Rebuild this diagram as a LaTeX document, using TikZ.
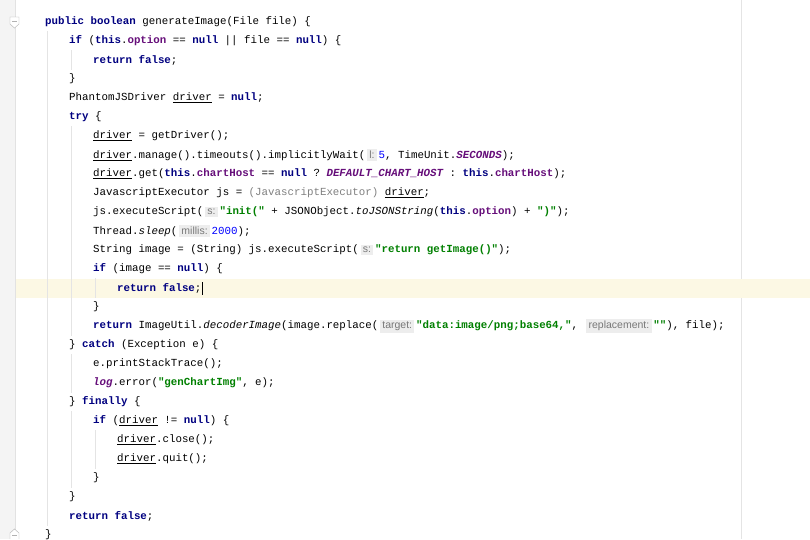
\documentclass[tikz,border=0pt]{standalone}
\usepackage{fontspec}
\setmonofont{Liberation Mono}
\setsansfont{Liberation Sans}
\definecolor{kwc}{RGB}{0,0,128}
\definecolor{fldc}{RGB}{102,14,122}
\definecolor{strc}{RGB}{0,128,0}
\definecolor{numc}{RGB}{0,0,255}
\definecolor{hintbg}{RGB}{237,237,237}
\definecolor{hinttxt}{RGB}{120,120,120}
\definecolor{castc}{RGB}{128,128,128}
\definecolor{curline}{RGB}{252,248,228}
\definecolor{guide}{RGB}{228,228,228}
\definecolor{gutter}{RGB}{244,244,244}
\newcommand\kw[1]{\textbf{\color{kwc}#1}}
\newcommand\fld[1]{\textbf{\color{fldc}#1}}
\newcommand\fldi[1]{\textbf{\textit{\color{fldc}#1}}}
\newcommand\strl[1]{\textbf{\color{strc}#1}}
\newcommand\numl[1]{{\color{numc}#1}}
\newcommand\ul[1]{\underline{#1}}
\newcommand\hintb[1]{\,{\setlength\fboxsep{2.2pt}\colorbox{hintbg}{\sffamily\fontsize{10.5}{10.5}\selectfont\color{hinttxt}#1}}\,}
\begin{document}
\begin{tikzpicture}[x=1pt,y=1pt,
  code/.style={anchor=west,inner sep=0pt,font=\ttfamily\fontsize{10.8}{12}\selectfont},
  guideline/.style={draw=guide,line width=0.8pt}]
\useasboundingbox (0,0) rectangle (810,-539);
\fill[white] (0,0) rectangle (810,-539);
\fill[gutter] (0,0) rectangle (15,-539);
\draw[guide!80!black!40] (15,0) -- (15,-539);
\draw[guide] (741,0) -- (741,-539);
\fill[curline] (15.5,-279) rectangle (810,-298);
% indent guides
\draw[guideline] (47,-31) -- (47,-526);
\draw[guideline] (71,-50) -- (71,-70);
\draw[guideline] (71,-126) -- (71,-336);
\draw[guideline] (71,-354) -- (71,-393);
\draw[guideline] (71,-411) -- (71,-488);
\draw[guideline] (95,-278) -- (95,-298);
\draw[guideline] (95,-430) -- (95,-469);
% fold markers
\draw[gray!60,fill=white] (10,-17) -- (19,-17) -- (19,-24) -- (14.5,-28) -- (10,-24) -- cycle;
\draw[gray!60] (12,-21.5) -- (17,-21.5);
\draw[gray!60,fill=white] (10,-539) -- (10,-533) -- (14.5,-529) -- (19,-533) -- (19,-539);
\draw[gray!60] (12,-535) -- (17,-535);
\node[code] (l0) at (45,-22) {\kw{public} \kw{boolean} generateImage(File file) \{};
\node[code] (l1) at (69,-41) {\kw{if} (\kw{this}.\fld{option} == \kw{null} || file == \kw{null}) \{};
\node[code] (l2) at (93,-60) {\kw{return} \kw{false};};
\node[code] (l3) at (69,-79) {\}};
\node[code] (l4) at (69,-98) {PhantomJSDriver \ul{driver} = \kw{null};};
\node[code] (l5) at (69,-117) {\kw{try} \{};
\node[code] (l6) at (93,-136) {\ul{driver} = getDriver();};
\node[code] (l7) at (93,-155) {\ul{driver}.manage().timeouts().implicitlyWait(\hintb{l:}\numl{5}, TimeUnit.\fldi{SECONDS});};
\node[code] (l8) at (93,-174) {\ul{driver}.get(\kw{this}.\fld{chartHost} == \kw{null} ? \fldi{DEFAULT\_CHART\_HOST} : \kw{this}.\fld{chartHost});};
\node[code] (l9) at (93,-193) {JavascriptExecutor js = {\color{castc}(JavascriptExecutor)} \ul{driver};};
\node[code] (l10) at (93,-212) {js.executeScript(\hintb{s:}\strl{"init("} + JSONObject.\textit{toJSONString}(\kw{this}.\fld{option}) + \strl{")"});};
\node[code] (l11) at (93,-231) {Thread.\textit{sleep}(\hintb{millis:}\numl{2000});};
\node[code] (l12) at (93,-250) {String image = (String) js.executeScript(\hintb{s:}\strl{"return getImage()"});};
\node[code] (l13) at (93,-269) {\kw{if} (image == \kw{null}) \{};
\node[code] (l14) at (117,-288) {\kw{return} \kw{false};};
\draw[black,line width=1.3pt] (l14.east) ++(1,-6.5) -- ++(0,13);
\node[code] (l15) at (93,-307) {\}};
\node[code] (l16) at (93,-326) {\kw{return} ImageUtil.\textit{decoderImage}(image.replace(\hintb{target:}\strl{"data:image/png;base64,"}, \hintb{replacement:}\strl{""}), file);};
\node[code] (l17) at (69,-345) {\} \kw{catch} (Exception e) \{};
\node[code] (l18) at (93,-364) {e.printStackTrace();};
\node[code] (l19) at (93,-383) {\fldi{log}.error(\strl{"genChartImg"}, e);};
\node[code] (l20) at (69,-402) {\} \kw{finally} \{};
\node[code] (l21) at (93,-421) {\kw{if} (\ul{driver} != \kw{null}) \{};
\node[code] (l22) at (117,-440) {\ul{driver}.close();};
\node[code] (l23) at (117,-459) {\ul{driver}.quit();};
\node[code] (l24) at (93,-478) {\}};
\node[code] (l25) at (69,-497) {\}};
\node[code] (l26) at (69,-516) {\kw{return} \kw{false};};
\node[code] (l27) at (45,-535) {\}};
\end{tikzpicture}
\end{document}
